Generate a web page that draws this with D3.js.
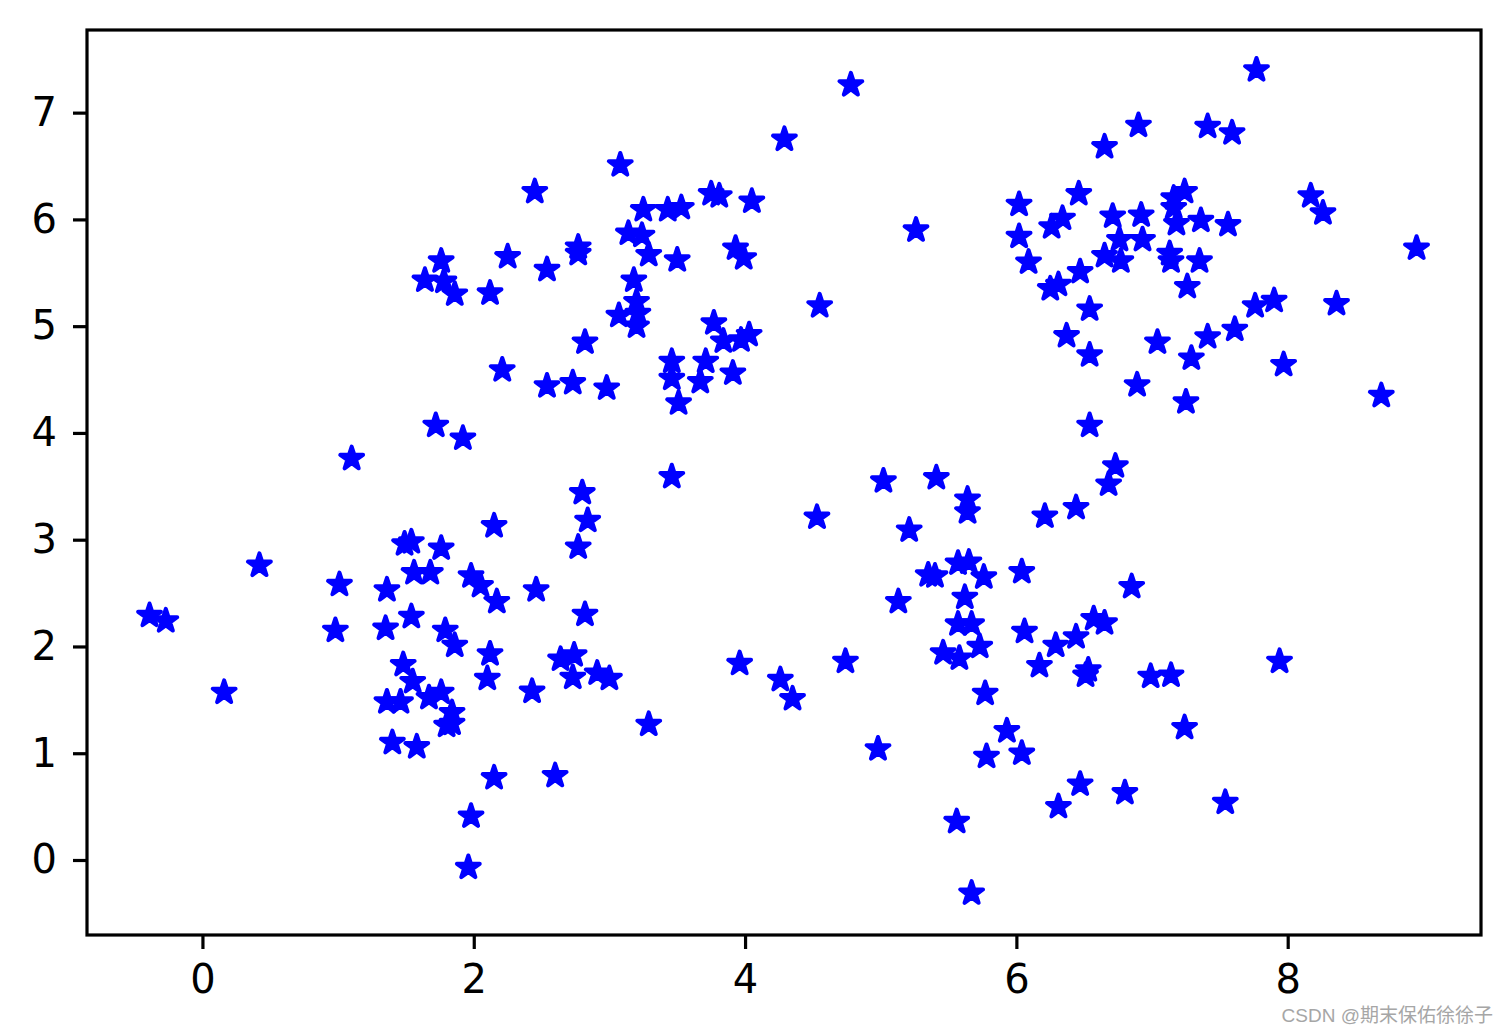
<!DOCTYPE html>
<html>
<head>
<meta charset="utf-8">
<script src="https://cdn.jsdelivr.net/npm/d3@7"></script>
<style>
  html, body { margin: 0; padding: 0; background: #fff; }
  svg { display: block; }
</style>
</head>
<body>
<script>
// points, grouped by blob
var lowerLeft = [
  [-0.39, 2.29], [-0.27, 2.24], [0.16, 1.57], [0.42, 2.76], [1.10, 3.76],
  [1.01, 2.58], [0.98, 2.15], [1.36, 2.53], [1.35, 2.17], [1.49, 2.96],
  [1.54, 2.98], [1.56, 2.69], [1.68, 2.69], [1.76, 2.92], [1.54, 2.28],
  [1.48, 1.83], [1.55, 1.67], [1.36, 1.48], [1.46, 1.48], [1.40, 1.10],
  [1.58, 1.06], [1.67, 1.52], [1.76, 1.57], [1.84, 1.38], [1.80, 1.26],
  [1.84, 1.28], [1.98, 2.66], [2.05, 2.57], [2.17, 2.42], [1.79, 2.15],
  [1.86, 2.01], [2.12, 1.93], [2.10, 1.70], [2.15, 3.13], [2.46, 2.53],
  [2.43, 1.58], [2.64, 1.88], [2.74, 1.92], [2.73, 1.71], [2.91, 1.75],
  [3.00, 1.70], [2.82, 2.30], [2.77, 2.93], [2.84, 3.18], [2.80, 3.44],
  [3.29, 1.27], [2.15, 0.77], [2.60, 0.79], [1.98, 0.41], [1.96, -0.07]
];

var upperLeft = [
  [4.55, 5.19], [4.78, 7.26], [4.29, 6.75], [3.08, 6.51], [2.45, 6.26],
  [3.75, 6.24], [3.81, 6.22], [4.05, 6.17], [3.25, 6.09], [3.43, 6.09],
  [3.53, 6.11], [3.14, 5.87], [3.24, 5.85], [3.29, 5.67], [3.50, 5.62],
  [2.77, 5.74], [2.77, 5.68], [3.93, 5.73], [3.99, 5.64], [1.76, 5.61],
  [2.25, 5.65], [1.64, 5.43], [1.78, 5.42], [1.86, 5.30], [2.12, 5.31],
  [2.54, 5.53], [3.18, 5.43], [3.20, 5.23], [3.07, 5.10], [3.21, 5.12],
  [3.20, 5.00], [2.82, 4.85], [3.77, 5.03], [3.84, 4.86], [3.97, 4.87],
  [4.03, 4.92], [3.46, 4.67], [3.46, 4.51], [3.71, 4.67], [3.67, 4.48],
  [3.91, 4.56], [3.51, 4.28], [2.21, 4.59], [2.54, 4.44], [2.73, 4.47],
  [2.98, 4.42], [1.72, 4.07], [1.92, 3.95], [3.46, 3.59]
];

var upperRight = [
  [5.26, 5.90], [6.90, 6.88], [6.65, 6.68], [7.41, 6.87], [7.59, 6.81],
  [7.77, 7.40], [6.02, 6.14], [6.46, 6.24], [6.02, 5.84], [6.09, 5.60],
  [6.26, 5.93], [6.34, 6.01], [6.71, 6.03], [6.92, 6.04], [6.76, 5.81],
  [6.93, 5.81], [6.65, 5.66], [6.77, 5.61], [7.24, 6.26], [7.16, 6.20],
  [7.16, 6.11], [7.18, 5.96], [7.36, 5.99], [7.56, 5.95], [7.13, 5.68],
  [7.14, 5.61], [7.35, 5.61], [7.26, 5.37], [6.47, 5.51], [6.25, 5.35],
  [6.31, 5.39], [6.54, 5.16], [6.37, 4.91], [6.54, 4.73], [7.04, 4.85],
  [7.29, 4.70], [7.41, 4.90], [7.61, 4.97], [7.76, 5.19], [7.90, 5.24],
  [8.36, 5.21], [7.97, 4.64], [8.17, 6.22], [8.26, 6.06], [8.95, 5.73],
  [6.89, 4.45], [7.25, 4.29], [8.69, 4.35], [6.54, 4.07], [6.73, 3.69],
  [6.68, 3.52]
];

var lowerRight = [
  [3.96, 1.84], [4.26, 1.69], [4.35, 1.51], [4.53, 3.21], [5.02, 3.55],
  [5.41, 3.58], [5.64, 3.38], [5.64, 3.26], [5.21, 3.09], [6.21, 3.22],
  [6.44, 3.30], [5.35, 2.67], [5.40, 2.66], [5.57, 2.78], [5.65, 2.79],
  [5.76, 2.65], [6.04, 2.70], [5.62, 2.46], [6.85, 2.56], [5.13, 2.42],
  [5.57, 2.21], [5.67, 2.21], [5.73, 2.00], [5.46, 1.94], [5.58, 1.89],
  [6.06, 2.14], [6.29, 2.01], [6.44, 2.09], [6.57, 2.26], [6.65, 2.22],
  [6.17, 1.82], [6.53, 1.78], [6.51, 1.73], [4.74, 1.86], [6.99, 1.72],
  [7.14, 1.73], [7.94, 1.86], [5.77, 1.56], [5.93, 1.21], [7.24, 1.24],
  [4.98, 1.04], [5.78, 0.97], [6.04, 1.00], [6.47, 0.71], [6.80, 0.63],
  [6.31, 0.50], [7.54, 0.54], [5.56, 0.36], [5.67, -0.31]
];

var xTicks = [0, 2, 4, 6, 8];
var yTicks = [0, 1, 2, 3, 4, 5, 6, 7];
var xDomain = [-0.851, 9.425];
var yDomain = [-0.7025, 7.774];
var watermark = 'CSDN @期末保佑徐徐子';

var width = 1510,
  height = 1035,
  plotLeft = 87, plotRight = 1481, plotTop = 30, plotBottom = 935;

var points = lowerLeft.concat(upperLeft, upperRight, lowerRight);

var x = d3.scaleLinear().domain(xDomain).range([plotLeft, plotRight]);
var y = d3.scaleLinear().domain(yDomain).range([plotBottom, plotTop]);

var svg = d3.select('body').append('svg')
  .attr('width', width)
  .attr('height', height);

svg.append('rect')
  .attr('width', width)
  .attr('height', height)
  .attr('fill', '#fff');

// stars, outer radius 12px -> d3 symbol area
var starR = 12;
var star = d3.symbol().type(d3.symbolStar).size(starR * starR / 0.8908130915);

svg.append('g')
  .selectAll('path')
  .data(points)
  .enter().append('path')
  .attr('d', star)
  .attr('transform', d => `translate(${x(d[0])}, ${y(d[1])})`)
  .attr('fill', '#0000ff')
  .attr('stroke', '#0000ff')
  .attr('stroke-width', 4)
  .attr('stroke-linejoin', 'round');

// axes
var xAxis = d3.axisBottom(x)
  .tickValues(xTicks)
  .tickFormat(d3.format('d'))
  .tickSizeInner(14)
  .tickSizeOuter(0)
  .tickPadding(16);

var yAxis = d3.axisLeft(y)
  .tickValues(yTicks)
  .tickFormat(d3.format('d'))
  .tickSizeInner(14)
  .tickSizeOuter(0)
  .tickPadding(16);

var gx = svg.append('g')
  .attr('transform', `translate(0, ${plotBottom})`)
  .call(xAxis);

var gy = svg.append('g')
  .attr('transform', `translate(${plotLeft}, 0)`)
  .call(yAxis);

[gx, gy].forEach(function(g) {
  g.attr('font-family', '"DejaVu Sans", sans-serif')
    .attr('font-size', 40);
  g.select('.domain').remove();
  g.selectAll('.tick line')
    .attr('stroke', '#000')
    .attr('stroke-width', 3.2);
  g.selectAll('.tick text')
    .attr('fill', '#000');
});

// frame
svg.append('rect')
  .attr('x', plotLeft)
  .attr('y', plotTop)
  .attr('width', plotRight - plotLeft)
  .attr('height', plotBottom - plotTop)
  .attr('fill', 'none')
  .attr('stroke', '#000')
  .attr('stroke-width', 3.2);

svg.append('text')
  .attr('x', 1493)
  .attr('y', 1022)
  .attr('text-anchor', 'end')
  .attr('font-size', 19)
  .attr('font-family', '"Liberation Sans", "Noto Sans CJK SC", sans-serif')
  .attr('fill', '#a6a6a6')
  .text(watermark);
</script>
</body>
</html>
